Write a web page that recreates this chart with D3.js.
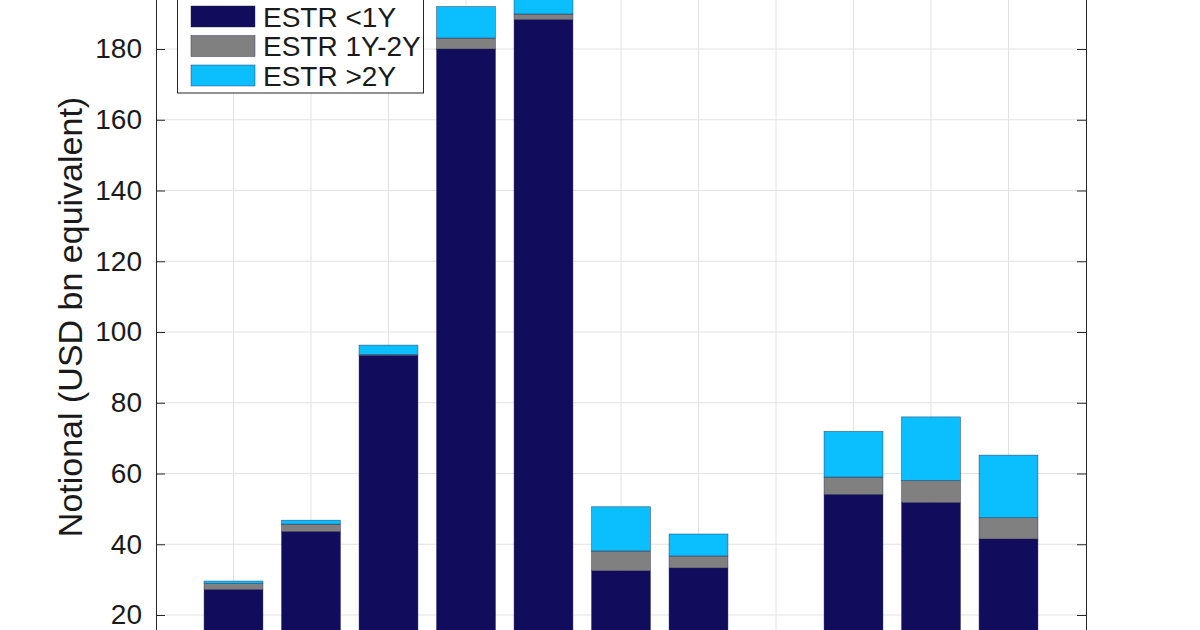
<!DOCTYPE html>
<html>
<head>
<meta charset="utf-8">
<script src="https://cdn.jsdelivr.net/npm/d3@7"></script>
<style>
  html, body { margin: 0; padding: 0; background: #fff; }
  svg { display: block; font-family: "Liberation Sans", Arial, Helvetica, sans-serif; }
</style>
</head>
<body>
<svg id="chart" width="1200" height="630"></svg>
<script>
// ---- data ----
const categories = [1, 2, 3, 4, 5, 6, 7, 8, 9, 10, 11]; // slot 8 is empty in the original
const estrLt1Y  = [27.2, 43.6, 93.4, 180.0, 188.3, 32.5, 33.3, 0, 54.1, 51.8, 41.5];
const estr1Y2Y  = [1.7, 2.1, 0.2, 3.1, 1.6, 5.6, 3.4, 0, 4.9, 6.2, 6.0];
const estrGt2Y  = [0.7, 1.1, 2.7, 8.9, 6.0, 12.5, 6.2, 0, 12.9, 18.0, 17.7];
const seriesNames = ["ESTR <1Y", "ESTR 1Y-2Y", "ESTR >2Y"];
const yTicks = [20, 40, 60, 80, 100, 120, 140, 160, 180]; // visible ticks (0 and 200 lie outside the frame)
const yLabel = "Notional (USD bn equivalent)";

// ---- styles ----
const colors = ["#110c5c", "#808080", "#0bbfff"];
const svg = d3.select("#chart");

const x = d3.scaleLinear().domain([0, 12]).range([156, 1086]);
const y = d3.scaleLinear().domain([0, 200]).range([685.75, -21.75]);
const barW = 0.76;

// gridlines
const grid = svg.append("g");
grid.selectAll("line.h").data(yTicks).join("line")
  .attr("x1", x(0)).attr("x2", x(12))
  .attr("y1", d => y(d)).attr("y2", d => y(d))
  .attr("stroke", "#e2e2e2").attr("stroke-width", 1);
grid.selectAll("line.v").data(categories).join("line")
  .attr("x1", d => x(d)).attr("x2", d => x(d))
  .attr("y1", y(0)).attr("y2", y(200))
  .attr("stroke", "#e2e2e2").attr("stroke-width", 1);

// stacked bars
const table = categories.map((c, i) => ({ cat: c, s0: estrLt1Y[i], s1: estr1Y2Y[i], s2: estrGt2Y[i] }));
const stack = d3.stack().keys(["s0", "s1", "s2"])(table);
stack.forEach((layer, li) => {
  svg.append("g").selectAll("rect").data(layer.filter(d => d[1] - d[0] > 0)).join("rect")
    .attr("x", d => x(d.data.cat - barW / 2))
    .attr("width", d => x(d.data.cat + barW / 2) - x(d.data.cat - barW / 2))
    .attr("y", d => y(d[1]))
    .attr("height", d => y(d[0]) - y(d[1]))
    .attr("fill", colors[li])
    .attr("stroke", "#22224a").attr("stroke-width", 0.6).attr("stroke-opacity", 0.7);
});

// axes (box)
const left = d3.axisLeft(y).tickValues(yTicks).tickSizeInner(-9).tickSizeOuter(0).tickPadding(14);
const gl = svg.append("g").attr("transform", `translate(${x(0)},0)`).call(left);
gl.selectAll("text").attr("font-size", 28).attr("fill", "#1a1a1a").attr("font-family", "Liberation Sans, Arial, sans-serif");
gl.selectAll("line").attr("stroke", "#262626");
gl.select(".domain").attr("stroke", "#262626");

const right = d3.axisRight(y).tickValues(yTicks).tickSizeInner(-9).tickSizeOuter(0).tickFormat("");
const gr = svg.append("g").attr("transform", `translate(${x(12)},0)`).call(right);
gr.selectAll("line").attr("stroke", "#262626");
gr.select(".domain").attr("stroke", "#262626");

// y label
svg.append("text")
  .attr("transform", "translate(82,317) rotate(-90)")
  .attr("text-anchor", "middle")
  .attr("font-size", 34)
  .attr("fill", "#1a1a1a")
  .text(yLabel);

// legend
const lg = svg.append("g");
lg.append("rect").attr("x", 177.5).attr("y", -6).attr("width", 246).attr("height", 99)
  .attr("fill", "#fff").attr("stroke", "#262626").attr("stroke-width", 1);
const rowY = [16.5, 46, 75.5];
seriesNames.forEach((name, i) => {
  lg.append("rect").attr("x", 191).attr("y", rowY[i] - 10.5).attr("width", 64).attr("height", 21)
    .attr("fill", colors[i]).attr("stroke", "#22224a").attr("stroke-width", 0.6).attr("stroke-opacity", 0.7);
  lg.append("text").attr("x", 263).attr("y", rowY[i] + 10.2)
    .attr("font-size", 28).attr("fill", "#1a1a1a").text(name);
});
</script>
</body>
</html>
